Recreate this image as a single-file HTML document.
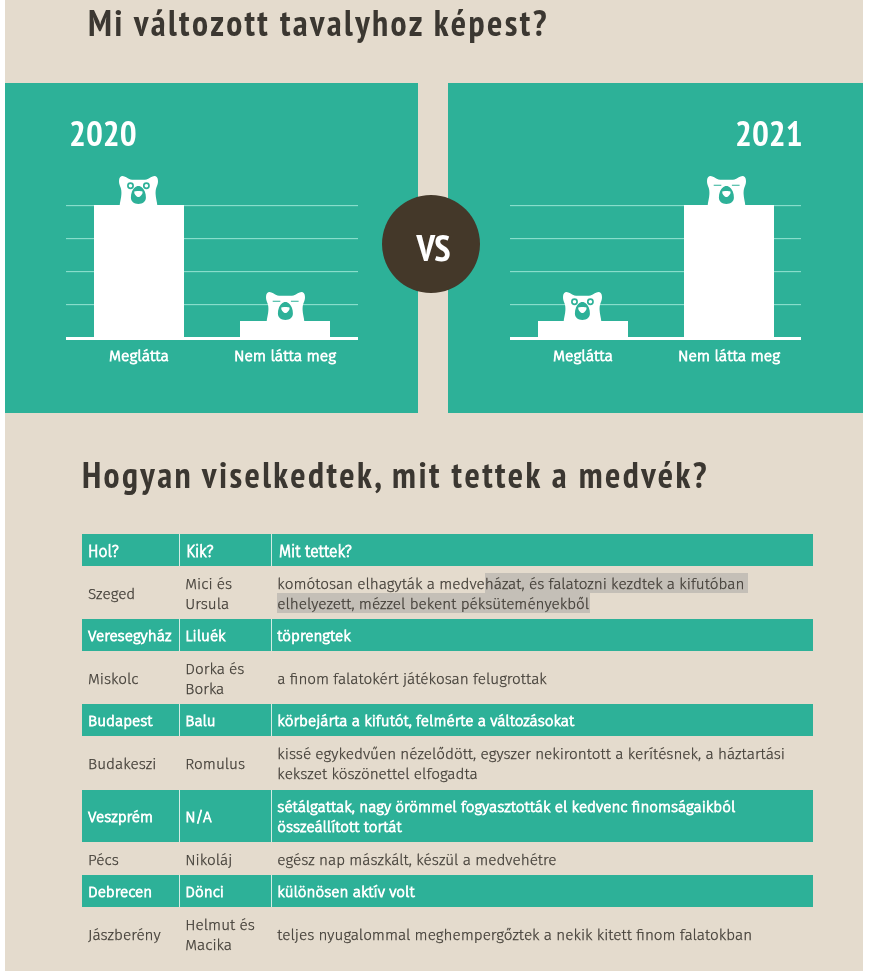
<!DOCTYPE html>
<html lang="hu">
<head>
<meta charset="utf-8">
<title>Medvék</title>
<style>
html,body{margin:0;padding:0;background:#fff;}
body{width:871px;height:971px;overflow:hidden;position:relative;}
#page{position:absolute;left:5px;top:0;width:858px;height:971px;background:#e4dbcd;}
.a{position:absolute;}
.nar,.lbl,table{will-change:transform;}
.nar{font-family:"PT Sans Narrow","Liberation Sans Narrow","Liberation Sans",sans-serif;font-weight:700;white-space:nowrap;}
.h{margin:0;color:#3b3731;font-size:36px;line-height:50px;letter-spacing:2.4px;}
#h1{left:88px;top:-2px;}
#h2{left:82px;top:450px;}
.panel{top:83px;height:330px;background:#2db198;}
.year{color:#fff;font-size:35.4px;line-height:50px;top:108.3px;}
.gl{height:1px;background:#88ddcb;box-shadow:0 0.5px 0 rgba(136,221,203,.35);}
.base{height:3px;background:#fff;top:337px;}
.bar{width:90px;background:#fff;}
.bear{width:39px;height:30px;}
.lbl{top:346px;width:160px;text-align:center;font-family:"Fira Sans","Liberation Sans",sans-serif;font-weight:300;font-size:15.6px;line-height:20px;color:#fff;-webkit-text-stroke:0.8px #fff;white-space:nowrap;}
#vs{left:382px;top:195px;width:98px;height:98px;border-radius:50%;background:#443829;}
#vst{left:382px;top:222px;width:102px;text-align:center;color:#fff;font-size:37px;line-height:50px;letter-spacing:-1px;}
table{position:absolute;left:82px;top:534px;width:731px;border-collapse:separate;border-spacing:0;table-layout:fixed;font-family:"Fira Sans","Liberation Sans",sans-serif;font-size:15.3px;line-height:20px;color:#433f38;font-weight:300;-webkit-text-stroke:0.25px #433f38;}
td{padding:2.4px 6px 0 6px;vertical-align:middle;white-space:nowrap;overflow:visible;}
td+td{border-left:1px solid transparent;}
td.c2{padding-left:5.3px;}
td.c3{padding-left:5.3px;}
tr.t td{background:#2db198;color:#fff;-webkit-text-stroke:0.8px #fff;padding-top:2.6px;}
tr.t td+td{border-left-color:#d3ece4;}
tr.th td{padding-top:3.6px;font-size:15.7px;}
tr.th td.c2{padding-left:6.3px;}
tr.th td.c3{padding-left:7px;}
.hl{background:#c4bfb7;padding-top:2.2px;padding-bottom:0.3px;}
</style>
</head>
<body>
<div id="page"></div>
<h1 class="a nar h" id="h1">Mi változott tavalyhoz képest?</h1>

<div class="a panel" style="left:5px;width:413px;"></div>
<div class="a panel" style="left:448px;width:415px;"></div>

<div class="a nar year" id="y20" style="left:69.4px;">2020</div>
<div class="a nar year" id="y21" style="left:735.4px;">2021</div>

<!-- left chart -->
<div class="a gl" style="left:66px;width:292px;top:205px;"></div>
<div class="a gl" style="left:66px;width:292px;top:238px;"></div>
<div class="a gl" style="left:66px;width:292px;top:271px;"></div>
<div class="a gl" style="left:66px;width:292px;top:304px;"></div>
<div class="a bar" style="left:94px;top:205px;height:132px;"></div>
<div class="a bar" style="left:240px;top:321px;height:16px;"></div>
<div class="a base" style="left:66px;width:292px;"></div>

<!-- right chart -->
<div class="a gl" style="left:510px;width:291px;top:205px;"></div>
<div class="a gl" style="left:510px;width:291px;top:238px;"></div>
<div class="a gl" style="left:510px;width:291px;top:271px;"></div>
<div class="a gl" style="left:510px;width:291px;top:304px;"></div>
<div class="a bar" style="left:538px;top:321px;height:16px;"></div>
<div class="a bar" style="left:684px;top:205px;height:132px;"></div>
<div class="a base" style="left:510px;width:291px;"></div>

<!-- bears -->
<svg class="a bear" style="left:119px;top:176px;" viewBox="0 0 39 30"><path fill="#fff" d="M0.6,30C0.9,26 2.3,22 2.4,18C2.5,15.5 2.3,13.5 1.6,11.5C0.8,9.6 0,7.8 0,5C0,2 1.6,0.1 3.6,0.1C6,0.1 8.2,2.5 11.5,3.5C15,3.9 24,3.9 27.5,3.5C30.8,2.5 33,0.1 35.4,0.1C37.4,0.1 39,2 39,5C39,7.8 38.2,9.6 37.4,11.5C36.7,13.5 36.5,15.5 36.6,18C36.7,22 38.1,26 38.4,30Z"/><circle cx="11.5" cy="9.7" r="2.62" fill="none" stroke="#2db198" stroke-width="1.65"/><circle cx="27.4" cy="9.7" r="2.62" fill="none" stroke="#2db198" stroke-width="1.65"/><path fill="#2db198" d="M19.4,10C22.2,10 24.6,12.6 25.8,15.6C26.6,17.6 26.9,19.5 26.9,21.5C26.9,25.5 23.8,27.9 19.4,27.9C15,27.9 11.9,25.5 11.9,21.5C11.9,19.5 12.2,17.6 13,15.6C14.2,12.6 16.6,10 19.4,10Z"/><path fill="#fff" d="M15.4,15.6C15.9,14.8 22.9,14.8 23.4,15.6C23.9,16.6 23.2,18.3 22,19.5C21,20.5 20.2,21.1 19.4,21.1C18.6,21.1 17.8,20.5 16.8,19.5C15.6,18.3 14.9,16.6 15.4,15.6Z"/></svg>
<svg class="a bear" style="left:266px;top:292px;" viewBox="0 0 39 30"><path fill="#fff" d="M0.6,30C0.9,26 2.3,22 2.4,18C2.5,15.5 2.3,13.5 1.6,11.5C0.8,9.6 0,7.8 0,5C0,2 1.6,0.1 3.6,0.1C6,0.1 8.2,2.5 11.5,3.5C15,3.9 24,3.9 27.5,3.5C30.8,2.5 33,0.1 35.4,0.1C37.4,0.1 39,2 39,5C39,7.8 38.2,9.6 37.4,11.5C36.7,13.5 36.5,15.5 36.6,18C36.7,22 38.1,26 38.4,30Z"/><path stroke="#2db198" stroke-width="1.1" d="M6.7,9.3H14.3M24.9,9.3H32.6"/><path fill="#2db198" d="M19.4,10C22.2,10 24.6,12.6 25.8,15.6C26.6,17.6 26.9,19.5 26.9,21.5C26.9,25.5 23.8,27.9 19.4,27.9C15,27.9 11.9,25.5 11.9,21.5C11.9,19.5 12.2,17.6 13,15.6C14.2,12.6 16.6,10 19.4,10Z"/><path fill="#fff" d="M15.4,15.6C15.9,14.8 22.9,14.8 23.4,15.6C23.9,16.6 23.2,18.3 22,19.5C21,20.5 20.2,21.1 19.4,21.1C18.6,21.1 17.8,20.5 16.8,19.5C15.6,18.3 14.9,16.6 15.4,15.6Z"/></svg>
<svg class="a bear" style="left:563px;top:292px;" viewBox="0 0 39 30"><path fill="#fff" d="M0.6,30C0.9,26 2.3,22 2.4,18C2.5,15.5 2.3,13.5 1.6,11.5C0.8,9.6 0,7.8 0,5C0,2 1.6,0.1 3.6,0.1C6,0.1 8.2,2.5 11.5,3.5C15,3.9 24,3.9 27.5,3.5C30.8,2.5 33,0.1 35.4,0.1C37.4,0.1 39,2 39,5C39,7.8 38.2,9.6 37.4,11.5C36.7,13.5 36.5,15.5 36.6,18C36.7,22 38.1,26 38.4,30Z"/><circle cx="11.5" cy="9.7" r="2.62" fill="none" stroke="#2db198" stroke-width="1.65"/><circle cx="27.4" cy="9.7" r="2.62" fill="none" stroke="#2db198" stroke-width="1.65"/><path fill="#2db198" d="M19.4,10C22.2,10 24.6,12.6 25.8,15.6C26.6,17.6 26.9,19.5 26.9,21.5C26.9,25.5 23.8,27.9 19.4,27.9C15,27.9 11.9,25.5 11.9,21.5C11.9,19.5 12.2,17.6 13,15.6C14.2,12.6 16.6,10 19.4,10Z"/><path fill="#fff" d="M15.4,15.6C15.9,14.8 22.9,14.8 23.4,15.6C23.9,16.6 23.2,18.3 22,19.5C21,20.5 20.2,21.1 19.4,21.1C18.6,21.1 17.8,20.5 16.8,19.5C15.6,18.3 14.9,16.6 15.4,15.6Z"/></svg>
<svg class="a bear" style="left:707px;top:176px;" viewBox="0 0 39 30"><path fill="#fff" d="M0.6,30C0.9,26 2.3,22 2.4,18C2.5,15.5 2.3,13.5 1.6,11.5C0.8,9.6 0,7.8 0,5C0,2 1.6,0.1 3.6,0.1C6,0.1 8.2,2.5 11.5,3.5C15,3.9 24,3.9 27.5,3.5C30.8,2.5 33,0.1 35.4,0.1C37.4,0.1 39,2 39,5C39,7.8 38.2,9.6 37.4,11.5C36.7,13.5 36.5,15.5 36.6,18C36.7,22 38.1,26 38.4,30Z"/><path stroke="#2db198" stroke-width="1.1" d="M6.7,9.3H14.3M24.9,9.3H32.6"/><path fill="#2db198" d="M19.4,10C22.2,10 24.6,12.6 25.8,15.6C26.6,17.6 26.9,19.5 26.9,21.5C26.9,25.5 23.8,27.9 19.4,27.9C15,27.9 11.9,25.5 11.9,21.5C11.9,19.5 12.2,17.6 13,15.6C14.2,12.6 16.6,10 19.4,10Z"/><path fill="#fff" d="M15.4,15.6C15.9,14.8 22.9,14.8 23.4,15.6C23.9,16.6 23.2,18.3 22,19.5C21,20.5 20.2,21.1 19.4,21.1C18.6,21.1 17.8,20.5 16.8,19.5C15.6,18.3 14.9,16.6 15.4,15.6Z"/></svg>

<div class="a lbl" style="left:59px;">Meglátta</div>
<div class="a lbl" style="left:205px;">Nem látta meg</div>
<div class="a lbl" style="left:503px;">Meglátta</div>
<div class="a lbl" style="left:649px;">Nem látta meg</div>

<div class="a" id="vs"></div>
<div class="a nar" id="vst"><span id="vss" style="display:inline-block">VS</span></div>

<h2 class="a nar h" id="h2">Hogyan viselkedtek, mit tettek a medvék?</h2>

<table>
<colgroup><col style="width:97px"><col style="width:92px"><col style="width:542px"></colgroup>
<tr class="t th" style="height:32px"><td>Hol?</td><td class="c2">Kik?</td><td class="c3">Mit tettek?</td></tr>
<tr style="height:53px"><td>Szeged</td><td class="c2">Mici és<br>Ursula</td><td class="c3">komótosan elhagyták a medve<span class="hl" style="padding-right:3.8px">házat, és falatozni kezdtek a kifutóban</span><br><span class="hl" style="padding-right:1.2px">elhelyezett, mézzel bekent péksüteményekből</span></td></tr>
<tr class="t" style="height:32px"><td>Veresegyház</td><td class="c2">Liluék</td><td class="c3">töprengtek</td></tr>
<tr style="height:53px"><td>Miskolc</td><td class="c2">Dorka és<br>Borka</td><td class="c3">a finom falatokért játékosan felugrottak</td></tr>
<tr class="t" style="height:32px"><td>Budapest</td><td class="c2">Balu</td><td class="c3">körbejárta a kifutót, felmérte a változásokat</td></tr>
<tr style="height:54px"><td>Budakeszi</td><td class="c2">Romulus</td><td class="c3">kissé egykedvűen nézelődött, egyszer nekirontott a kerítésnek, a háztartási<br>kekszet köszönettel elfogadta</td></tr>
<tr class="t" style="height:52px"><td>Veszprém</td><td class="c2">N/A</td><td class="c3">sétálgattak, nagy örömmel fogyasztották el kedvenc finomságaikból<br>összeállított tortát</td></tr>
<tr style="height:33px"><td>Pécs</td><td class="c2">Nikoláj</td><td class="c3">egész nap mászkált, készül a medvehétre</td></tr>
<tr class="t" style="height:32px"><td>Debrecen</td><td class="c2">Dönci</td><td class="c3">különösen aktív volt</td></tr>
<tr style="height:53px"><td>Jászberény</td><td class="c2">Helmut és<br>Macika</td><td class="c3">teljes nyugalommal meghempergőztek a nekik kitett finom falatokban</td></tr>
</table>
<script>
(function(){
  function fit(id, w, origin){
    var el=document.getElementById(id); if(!el) return;
    var a=el.getBoundingClientRect().width;
    if(a>0 && Math.abs(a-w)/w>0.03){
      el.style.transformOrigin=origin;
      el.style.transform='scaleX('+(w/a).toFixed(4)+')';
    }
  }
  fit('h1',460.8,'0 50%');
  fit('h2',627.0,'0 50%');
  fit('y20',67.7,'0 50%');
  fit('y21',67.7,'0 50%');
  fit('vss',32.9,'50% 50%');
})();
</script>
</body>
</html>
